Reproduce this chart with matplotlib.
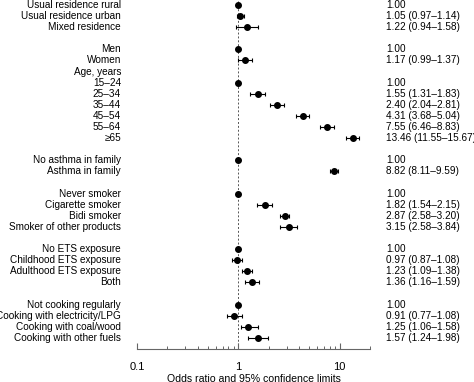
import matplotlib.pyplot as plt
import matplotlib.transforms as mtransforms
from matplotlib.ticker import LogLocator, NullFormatter, FixedLocator, FixedFormatter

plt.rcParams['font.family'] = ['Liberation Sans', 'DejaVu Sans']

# row labels ('' = blank spacer row)
labels = ['Usual residence rural', 'Usual residence urban', 'Mixed residence', '',
          'Men', 'Women', 'Age, years', '15\u201324', '25\u201334', '35\u201344',
          '45\u201354', '55\u201364', '\u226565', '',
          'No asthma in family', 'Asthma in family', '',
          'Never smoker', 'Cigarette smoker', 'Bidi smoker', 'Smoker of other products', '',
          'No ETS exposure', 'Childhood ETS exposure', 'Adulthood ETS exposure', 'Both', '',
          'Not cooking regularly', 'Cooking with electricity/LPG',
          'Cooking with coal/wood', 'Cooking with other fuels']

# odds ratios and 95% CI (None = no estimate on this row)
odds = [1.00, 1.05, 1.22, None,
        1.00, 1.17, None, 1.00, 1.55, 2.40, 4.31, 7.55, 13.46, None,
        1.00, 8.82, None,
        1.00, 1.82, 2.87, 3.15, None,
        1.00, 0.97, 1.23, 1.36, None,
        1.00, 0.91, 1.25, 1.57]
lower = [None, 0.97, 0.94, None,
         None, 0.99, None, None, 1.31, 2.04, 3.68, 6.46, 11.55, None,
         None, 8.11, None,
         None, 1.54, 2.58, 2.58, None,
         None, 0.87, 1.09, 1.16, None,
         None, 0.77, 1.06, 1.24]
upper = [None, 1.14, 1.58, None,
         None, 1.37, None, None, 1.83, 2.81, 5.04, 8.83, 15.67, None,
         None, 9.59, None,
         None, 2.15, 3.20, 3.84, None,
         None, 1.08, 1.38, 1.59, None,
         None, 1.08, 1.58, 1.98]

W, H = 474, 382
fig = plt.figure(figsize=(W / 100, H / 100), dpi=100)
ax = fig.add_axes([137 / W, 33 / H, (370 - 137) / W, (H - 33) / H])

for i, (o, lo, hi) in enumerate(zip(odds, lower, upper)):
    if o is None:
        continue
    if lo is not None:
        ax.errorbar([o], [i], xerr=[[o - lo], [hi - o]], fmt='none', ecolor='black',
                    elinewidth=0.8, capsize=1.5, capthick=0.8, zorder=3)
    ax.plot([o], [i], 'o', color='black', markersize=4, zorder=4)

ax.axvline(1, color='#555555', linestyle=(0, (2, 2)), linewidth=0.7, zorder=1)

ax.set_xscale('log')
ax.set_xlim(0.1, 20)
ax.set_ylim(31, -0.45)

for s in ['top', 'right', 'left']:
    ax.spines[s].set_visible(False)
ax.spines['bottom'].set_color('#666666')
ax.spines['bottom'].set_linewidth(0.8)
ax.set_yticks([])

ax.xaxis.set_major_locator(FixedLocator([0.1, 1, 10]))
ax.xaxis.set_major_formatter(FixedFormatter(['0.1', '1', '10']))
ax.xaxis.set_minor_locator(LogLocator(base=10, subs=range(2, 10), numticks=20))
ax.xaxis.set_minor_formatter(NullFormatter())
ax.tick_params(axis='x', which='major', direction='in', length=4, width=0.8,
               color='#666666', labelsize=8, pad=9)
ax.tick_params(axis='x', which='minor', direction='in', length=2.5, width=0.7,
               color='#666666')
ax.set_xlabel('Odds ratio and 95% confidence limits', fontsize=7.6, labelpad=2)

left_tr = mtransforms.blended_transform_factory(fig.transFigure, ax.transData)
for i, lab in enumerate(labels):
    if lab:
        ax.text(121 / W, i, lab, transform=left_tr, ha='right', va='center',
                fontsize=7.2, clip_on=False)
    o = odds[i]
    if o is None:
        continue
    if lower[i] is None:
        txt = f'{o:.2f}'
    else:
        txt = f'{o:.2f} ({lower[i]:.2f}\u2013{upper[i]:.2f})'
    ax.text(386 / W, i, txt, transform=left_tr, ha='left', va='center',
            fontsize=7.2, clip_on=False)

fig.savefig('out.png', dpi=100)
